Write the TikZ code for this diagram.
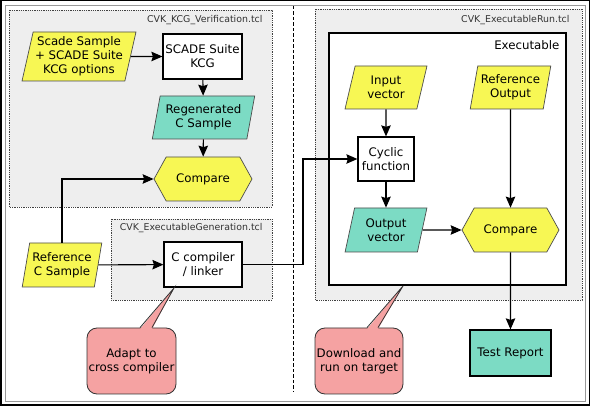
\documentclass[tikz,border=0pt]{standalone}
\usepackage{fontspec}
\setmainfont{DejaVu Sans}
\usepackage{tikz}
\usetikzlibrary{arrows.meta,shapes.geometric,shapes.symbols}

\definecolor{kcgyellow}{RGB}{247,247,84}
\definecolor{kcgteal}{RGB}{124,219,196}
\definecolor{kcgpink}{RGB}{245,162,162}
\definecolor{tclgray}{RGB}{238,238,238}

\begin{document}
\begin{tikzpicture}[x=1pt,y=-1pt,
    every node/.style={font=\fontsize{11.8}{14.2}\selectfont, align=center},
    para/.style={trapezium, trapezium left angle=75, trapezium right angle=105,
      trapezium stretches=true, draw=black!70, line width=0.7pt, inner sep=0pt},
    databox/.style={rectangle, draw=black, line width=1.2pt, fill=white, inner sep=0pt},
    cmpbox/.style={signal, signal to=east and west, signal pointer angle=122,
      draw=black!70, line width=0.7pt, fill=kcgyellow, inner sep=0pt},
    tclbox/.style={draw=black!75, densely dotted, line width=0.8pt, fill=tclgray},
    tcllabel/.style={anchor=east, font=\fontsize{9.4}{11}\selectfont, text=black!80},
    note/.style={rectangle, rounded corners=10pt, draw=black!80, line width=0.8pt,
      fill=kcgpink, minimum width=89pt, minimum height=66pt, inner sep=0pt},
    arr/.style={-{Stealth[length=11pt,width=9.5pt,inset=1.5pt]}, line width=1.1pt}]
  \useasboundingbox (0,0) rectangle (590,406);

  % frame
  \draw[line width=3pt] (0,0) rectangle (590,406);
  \draw[black!40, line width=0.6pt] (5,5) rectangle (585,401);
  \draw[line width=1pt, dash pattern=on 3.5pt off 2pt] (293,6) -- (293,392);

  % tcl scripts
  \draw[tclbox] (9,10) rectangle (272,207);
  \draw (266,20) node[tcllabel] (kcgtcl) {CVK\_KCG\_Verification.tcl};
  \draw[tclbox] (111,219) rectangle (272,300);
  \draw (266,228) node[tcllabel] (gentcl) {CVK\_ExecutableGeneration.tcl};
  \draw[tclbox] (315,9) rectangle (582,300);
  \draw (573,20) node[tcllabel] (runtcl) {CVK\_ExecutableRun.tcl};
  \draw[fill=white, line width=1.8pt] (329,33) rectangle (566,285);
  \draw (563,45) node[anchor=east] (exe) {Executable};

  % left side
  \draw (79,56.5) node[para, fill=kcgyellow, minimum width=114pt, minimum height=49pt] (scade) {Scade Sample\\+ SCADE Suite\\KCG options};
  \draw (202.5,56.5) node[databox, minimum width=79pt, minimum height=45pt] (kcg) {SCADE Suite\\KCG};
  \draw (203.5,117.5) node[para, fill=kcgteal, minimum width=103pt, minimum height=43pt] (regen) {Regenerated\\C Sample};
  \draw (203,179) node[cmpbox, minimum width=98pt, minimum height=44pt] (cmpa) {Compare};
  \draw (62,265) node[para, fill=kcgyellow, minimum width=80pt, minimum height=44pt] (refc) {Reference\\C Sample};
  \draw (203,264.5) node[databox, minimum width=78pt, minimum height=45pt] (ccomp) {C compiler\\/ linker};

  % right side
  \draw (386,87.5) node[para, fill=kcgyellow, minimum width=82pt, minimum height=43pt] (input) {Input\\vector};
  \draw (510.5,87.5) node[para, fill=kcgyellow, minimum width=81pt, minimum height=43pt] (refout) {Reference\\Output};
  \draw (386,159) node[databox, minimum width=56pt, minimum height=44pt] (cyclic) {Cyclic\\function};
  \draw (386,230) node[para, fill=kcgteal, minimum width=82pt, minimum height=44pt] (outv) {Output\\vector};
  \draw (510.5,230) node[cmpbox, minimum width=97pt, minimum height=44pt] (cmpb) {Compare};
  \draw (510.5,353) node[rectangle, draw=black, line width=1.2pt, fill=kcgteal, minimum width=81pt, minimum height=46pt] (report) {Test Report};
  \coordinate (hop) at (303,159);

  \draw[arr] (scade) -- (kcg);
  \draw[arr] (kcg) -- (regen);
  \draw[arr] (regen) -- (cmpa);
  \draw[arr] (refc.north) |- (cmpa.west);
  \draw[arr] (refc) -- (ccomp);
  \draw[arr] (ccomp.east) -| (hop) -- (cyclic.west);
  \draw[arr] (input) -- (cyclic);
  \draw[arr] (cyclic) -- (outv);
  \draw[arr] (refout) -- (cmpb);
  \draw[arr] (outv) -- (cmpb);
  \draw[arr] (cmpb) -- (report);

  % notes
  \draw (131.5,361) node[note] (adapt) {Adapt to\\cross compiler};
  \coordinate (adapttip) at (174,288);
  \fill[kcgpink] ([xshift=8.5pt,yshift=-1.5pt]adapt.north) -- (adapttip) -- ([xshift=20.5pt,yshift=-1.5pt]adapt.north) -- cycle;
  \draw[black!80, line width=0.8pt] ([xshift=8.5pt]adapt.north) -- (adapttip) -- ([xshift=20.5pt]adapt.north);
  \draw (359,361) node[note, minimum width=88pt] (download) {Download and\\run on target};
  \coordinate (downloadtip) at (403,286);
  \fill[kcgpink] ([xshift=8pt,yshift=-1.5pt]download.north) -- (downloadtip) -- ([xshift=19pt,yshift=-1.5pt]download.north) -- cycle;
  \draw[black!80, line width=0.8pt] ([xshift=8pt]download.north) -- (downloadtip) -- ([xshift=19pt]download.north);
\end{tikzpicture}
\end{document}
